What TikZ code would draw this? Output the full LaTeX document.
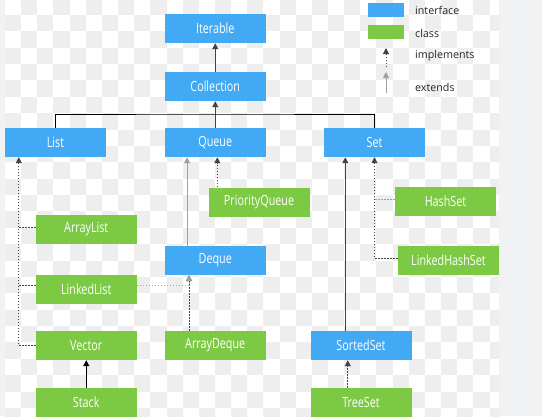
\documentclass[tikz,border=0pt]{standalone}
\usepackage{fontspec}
\setmainfont{Open Sans}
\newfontfamily\boxfont[FakeStretch=0.77]{Open Sans}
\usepackage{xcolor}
\usepackage{tikz}
\usetikzlibrary{arrows.meta}

\definecolor{ifaceblue}{HTML}{42A9F5}
\definecolor{clsgreen}{HTML}{7CC943}
\definecolor{checkgray}{HTML}{EEEEEE}
\definecolor{stripgray}{HTML}{F1F2F4}
\definecolor{linedark}{HTML}{444444}
\definecolor{linelight}{HTML}{A0A0A0}

\begin{document}
\begin{tikzpicture}[
  x = 1pt, y = -1pt,
  box/.style = {minimum width = 101pt, minimum height = 29pt, inner sep = 0pt,
                text = white, font = \boxfont\fontsize{14}{16}\selectfont},
  iface/.style = {box, fill = ifaceblue},
  cls/.style = {box, fill = clsgreen},
  key/.style = {minimum width = 36pt, minimum height = 14pt, inner sep = 0pt},
  keytext/.style = {anchor = west, inner sep = 0pt, text = black!85,
                    font = \fontsize{10.7}{13}\selectfont},
  ext/.style = {draw = linedark, line width = 1pt, -{Triangle[length = 6pt, width = 6pt]}},
  impl/.style = {draw = linedark, line width = 1pt, dash pattern = on 1.5pt off 1.5pt,
                 -{Triangle[length = 6pt, width = 6pt]}},
  faint/.style = {draw = linelight}
  ]
  % background
  \useasboundingbox (0,0) rectangle (542,416);
  \fill[stripgray] (0,0) rectangle (542,416);
  \begin{scope}
    \clip (5,0) rectangle (499,416);
    \fill[white] (5,0) rectangle (499,416);
    \foreach \i in {0,...,30}{
      \foreach \j in {0,...,25}{
        \pgfmathtruncatemacro\chk{mod(\i+\j,2)}
        \ifnum\chk=1
          \fill[checkgray] ({5+\i*16.15},{-1.37+\j*16.37}) rectangle ++(16.15,16.37);
        \fi
      }
    }
  \end{scope}

  % interfaces
  \node[iface] (iterable)   at (215.25,28.5)  {Iterable};
  \node[iface] (collection) at (215.25,86.5)  {Collection};
  \node[iface] (list)       at (55.5,142.5)   {List};
  \node[iface] (queue)      at (215.25,142.5) {Queue};
  \node[iface] (set)        at (374.5,142.5)  {Set};
  \node[iface] (deque)      at (215.25,260.5) {Deque};
  \node[iface] (sortedset)  at (361,345.5)    {SortedSet};

  % classes
  \node[cls] (prioq)         at (259,202)      {PriorityQueue};
  \node[cls] (hashset)       at (445.5,201)    {HashSet};
  \node[cls] (arraylist)     at (86.25,229.5)  {ArrayList};
  \node[cls] (linkedhashset) at (448.5,260.5)  {LinkedHashSet};
  \node[cls] (linkedlist)    at (86.25,289.5)  {LinkedList};
  \node[cls] (vector)        at (86.25,345.5)  {Vector};
  \node[cls] (arraydeque)    at (215.25,345.5) {ArrayDeque};
  \node[cls] (stack)         at (86.25,402.5)  {Stack};
  \node[cls] (treeset)       at (361,402.5)    {TreeSet};

  % legend
  \node[key, fill = ifaceblue] (ifacekey) at (386,10) {};
  \node[key, fill = clsgreen]  (clskey)   at (386,32) {};
  \node[keytext] (ifacetext) at (415,10) {interface};
  \node[keytext] (clstext)   at (415,33) {class};
  \node[keytext] (impltext)  at (415,56) {implements};
  \node[keytext] (exttext)   at (415,87) {extends};
  \coordinate (implfrom) at (386,67);
  \coordinate (implto)   at (386,48);
  \coordinate (extfrom)  at (386,93);
  \coordinate (extto)    at (386,72);
  \draw[impl] (implfrom) -- (implto);
  \draw[ext, faint] (extfrom) -- (extto);

  % Collection hierarchy
  \draw[ext] (collection) -- (iterable);
  \coordinate (bus) at (215.25,114);
  \draw[ext] (queue) -- (collection);
  \draw[black, line width = 1pt] (list.north) |- (bus) -| (set.north);

  % List
  \coordinate (lrail) at ([xshift = 14pt]list.south west);
  \draw[impl] (vector.west) -| (lrail);
  \draw[impl, -] ([yshift = 2pt]arraylist.west) -- ([yshift = 2pt]arraylist.west -| lrail);
  \draw[impl, -] ([yshift = 4pt]linkedlist.west) -- ([yshift = 4pt]linkedlist.west -| lrail);
  \draw[ext, black] (stack) -- (vector);

  % Queue
  \draw[ext, faint] ([xshift = 22.5pt]deque.north west)
    -- ([xshift = 22.5pt]deque.north west |- queue.south);
  \draw[impl] ([xshift = 9pt]prioq.north west)
    -- ([xshift = 9pt]prioq.north west |- queue.south);
  \coordinate (drail) at ([xshift = 24.5pt]deque.south west);
  \draw[impl] ([xshift = 24.5pt]arraydeque.north west) -- (drail);
  \draw[impl, faint] ([yshift = 4pt]linkedlist.east) -| (drail);

  % Set
  \draw[ext] ([xshift = 35pt]sortedset.north west)
    -- ([xshift = 35pt]sortedset.north west |- set.south);
  \draw[impl] ([yshift = 2.5pt]linkedhashset.west) -| (set.south);
  \draw[impl, faint, -] ([yshift = 2pt]hashset.west) -- ([yshift = 2pt]hashset.west -| set.south);
  \draw[impl] ([xshift = 37.5pt]treeset.north west)
    -- ([xshift = 37.5pt]treeset.north west |- sortedset.south);
\end{tikzpicture}
\end{document}
